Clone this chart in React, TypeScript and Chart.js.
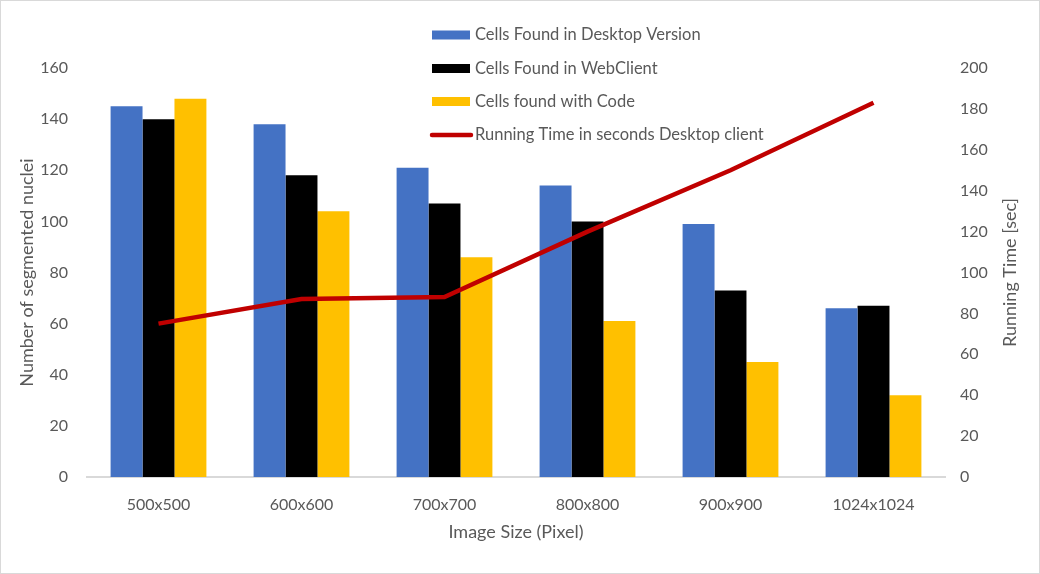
import React, { useEffect, useRef } from 'react';
import { Chart, registerables } from 'chart.js';

Chart.register(...registerables);

const categories = ['500x500', '600x600', '700x700', '800x800', '900x900', '1024x1024'];
const desktopCells = [145, 138, 121, 114, 99, 66];
const webClientCells = [140, 118, 107, 100, 73, 67];
const codeCells = [148, 104, 86, 61, 45, 32];
const runningTime = [75, 87, 88, 120, 150, 183];

const rightAxisTitle = 'Running Time [sec]';

const FONT = 'Lato, "Open Sans", sans-serif';
const TEXT = '#595959';

// legend drawn as a vertical list like the original, plus the border and right title
const verticalLegend = {
   id: 'verticalLegend',
   afterDraw(chart: any) {
      const ctx = chart.ctx;
      ctx.save();
      // outer border
      ctx.strokeStyle = '#d9d9d9';
      ctx.lineWidth = 1;
      ctx.strokeRect(0.5, 0.5, chart.width - 1, chart.height - 1);

      const rows = [35, 68.5, 101.5, 135];
      ctx.font = '16.5px ' + FONT;
      ctx.textBaseline = 'middle';
      chart.data.datasets.forEach((ds: any, i: number) => {
         const y = rows[i];
         if (ds.type === 'line') {
            ctx.strokeStyle = ds.borderColor;
            ctx.lineWidth = 4.5;
            ctx.lineCap = 'round';
            ctx.beginPath();
            ctx.moveTo(432, y);
            ctx.lineTo(471, y);
            ctx.stroke();
         } else {
            ctx.fillStyle = ds.backgroundColor;
            ctx.fillRect(432, y - 4.5, 38, 9);
         }
         ctx.fillStyle = TEXT;
         ctx.fillText(ds.label, 475, y);
      });

      // right axis title reads bottom-to-top in the original
      const area = chart.chartArea;
      ctx.translate(1010, (area.top + area.bottom) / 2);
      ctx.rotate(-Math.PI / 2);
      ctx.font = '18px ' + FONT;
      ctx.textAlign = 'center';
      ctx.textBaseline = 'middle';
      ctx.fillStyle = TEXT;
      ctx.fillText(rightAxisTitle, 0, 0);
      ctx.restore();
   },
};

const App = () => {
   const canvasRef = useRef<HTMLCanvasElement | null>(null);

   useEffect(() => {
      document.body.style.margin = '0';
      if (!canvasRef.current) return;

      const chart = new Chart(canvasRef.current, {
         type: 'bar',
         data: {
            labels: categories,
            datasets: [
               {
                  label: 'Cells Found in Desktop Version',
                  data: desktopCells,
                  backgroundColor: '#4472C4',
                  yAxisID: 'y',
                  order: 1,
                  barPercentage: 1,
                  categoryPercentage: 0.67,
               },
               {
                  label: 'Cells Found in WebClient',
                  data: webClientCells,
                  backgroundColor: '#000000',
                  yAxisID: 'y',
                  order: 1,
                  barPercentage: 1,
                  categoryPercentage: 0.67,
               },
               {
                  label: 'Cells found with Code',
                  data: codeCells,
                  backgroundColor: '#FFC000',
                  yAxisID: 'y',
                  order: 1,
                  barPercentage: 1,
                  categoryPercentage: 0.67,
               },
               {
                  type: 'line',
                  label: 'Running Time in seconds Desktop client',
                  data: runningTime,
                  borderColor: '#C00000',
                  backgroundColor: '#C00000',
                  borderWidth: 4.5,
                  pointRadius: 0,
                  tension: 0,
                  yAxisID: 'y1',
                  order: 0,
               } as any,
            ],
         },
         options: {
            responsive: false,
            animation: false,
            layout: { padding: { top: 68, left: 16, right: 19, bottom: 31 } },
            plugins: {
               legend: { display: false },
               tooltip: { enabled: false },
            },
            scales: {
               x: {
                  grid: { display: false, drawTicks: false },
                  border: { color: '#d9d9d9', width: 2 },
                  ticks: { color: TEXT, font: { family: FONT, size: 16 }, padding: 18 },
                  title: {
                     display: true,
                     text: 'Image Size (Pixel)',
                     color: TEXT,
                     font: { family: FONT, size: 18 },
                     padding: { top: 0, bottom: 0 },
                  },
                  afterFit: (s: any) => {
                     s.height = 66;
                  },
               },
               y: {
                  position: 'left',
                  min: 0,
                  max: 160,
                  grid: { display: false, drawTicks: false },
                  border: { display: false },
                  ticks: { stepSize: 20, color: TEXT, font: { family: FONT, size: 16 }, padding: 19 },
                  title: {
                     display: true,
                     text: 'Number of segmented nuclei',
                     color: TEXT,
                     font: { family: FONT, size: 18 },
                     padding: { top: 0, bottom: 0 },
                  },
                  afterFit: (s: any) => {
                     s.width = 71;
                  },
               },
               y1: {
                  position: 'right',
                  min: 0,
                  max: 200,
                  grid: { display: false, drawTicks: false },
                  border: { display: false },
                  ticks: { stepSize: 20, color: TEXT, font: { family: FONT, size: 16 }, padding: 15 },
                  afterFit: (s: any) => {
                     s.width = 76;
                  },
               },
            },
         },
         plugins: [verticalLegend],
      });

      return () => {
         chart.destroy();
      };
   }, []);

   return <canvas ref={canvasRef} width={1040} height={574} />;
};

export default App;
